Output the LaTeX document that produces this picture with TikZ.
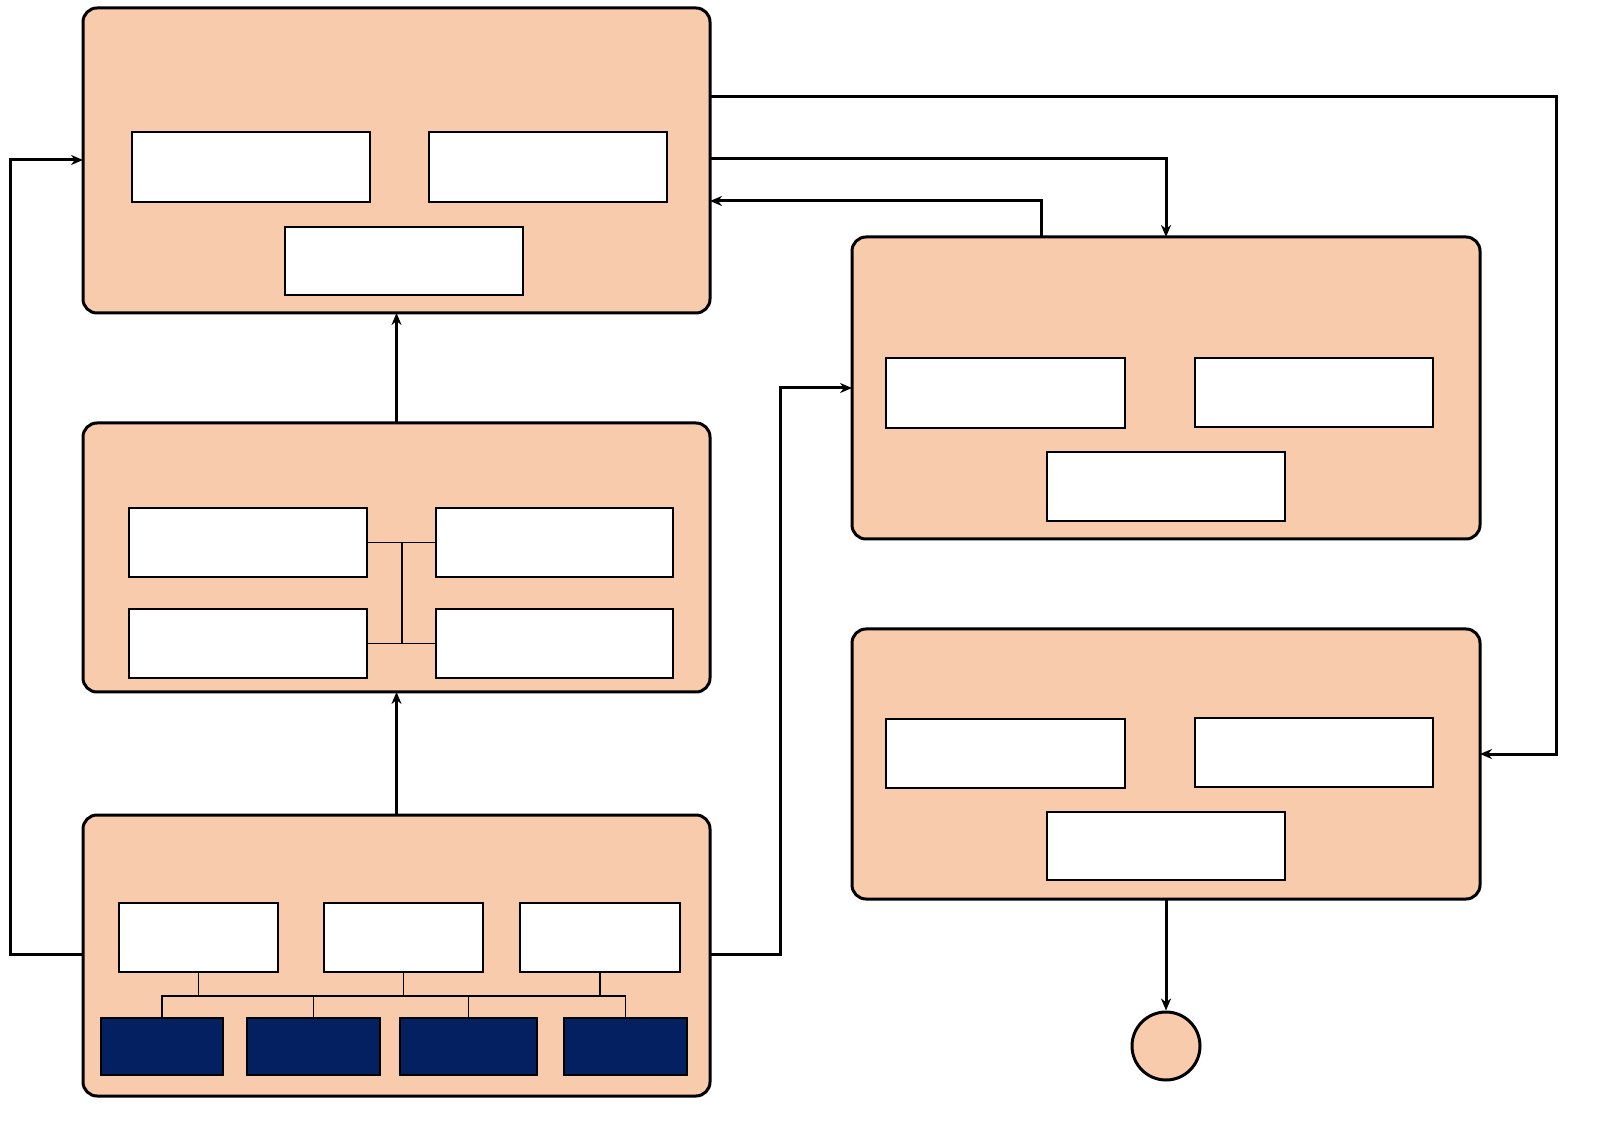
\documentclass[tikz,border=0pt]{standalone}
\usetikzlibrary{arrows.meta}
\definecolor{peach}{HTML}{F7CBAC}
\definecolor{navy}{HTML}{042060}
\begin{document}
\begin{tikzpicture}[x=0.5pt,y=-0.5pt,
  box/.style 2 args={anchor=north west,inner sep=0,outer sep=0,minimum width=#1*0.5pt,minimum height=#2*0.5pt},
  panel/.style={draw,line width=1.5pt,fill=peach,rounded corners=7pt},
  wbox/.style={draw,line width=0.8pt,fill=white},
  nbox/.style={draw,line width=0.8pt,fill=navy},
  arr/.style={line width=1.5pt,-{Stealth[length=6pt,width=5pt]}},
  thin/.style={line width=0.8pt}]
\useasboundingbox[fill=white] (0,0) rectangle (1600,1127);
% panels
\node[panel,box={627}{305}] (A) at (83,8) {};
\node[panel,box={627}{269}] (B) at (83,423) {};
\node[panel,box={627}{281}] (C) at (83,815) {};
\node[panel,box={628}{302}] (D) at (852,237) {};
\node[panel,box={628}{270}] (E) at (852,629) {};
\node[draw,line width=1.5pt,fill=peach,circle,minimum size=34pt,inner sep=0] (O) at (1166,1046) {};
% A
\node[wbox,box={238}{70}] (a1) at (132,132) {};
\node[wbox,box={238}{70}] (a2) at (429,132) {};
\node[wbox,box={238}{68}] (a3) at (285,227) {};
% B
\node[wbox,box={238}{69}] (b1) at (129,508) {};
\node[wbox,box={237}{69}] (b2) at (436,508) {};
\node[wbox,box={238}{69}] (b3) at (129,609) {};
\node[wbox,box={237}{69}] (b4) at (436,609) {};
\coordinate (bt) at (402,543);
\coordinate (bb) at (402,644);
\draw[thin] (b1.east) -- (b2.west);
\draw[thin] (b3.east) -- (b4.west);
\draw[thin] (bt) -- (bb);
% C
\node[wbox,box={159}{69}] (c1) at (119,903) {};
\node[wbox,box={159}{69}] (c2) at (324,903) {};
\node[wbox,box={160}{69}] (c3) at (520,903) {};
\node[nbox,box={122}{57}] (n1) at (101,1018) {};
\node[nbox,box={133}{57}] (n2) at (247,1018) {};
\node[nbox,box={137}{57}] (n3) at (400,1018) {};
\node[nbox,box={123}{57}] (n4) at (564,1018) {};
\draw[thin] (c1.south) -- ++(0,24);
\draw[thin] (c2.south) -- ++(0,24);
\draw[thin] (c3.south) -- ++(0,24);
\draw[thin] (n1.north) |- (n4.north |- 0,996) -- (n4.north);
\draw[thin] (n2.north) -- (n2.north |- 0,996);
\draw[thin] (n3.north) -- (n3.north |- 0,996);
% D
\node[wbox,box={239}{70}] (d1) at (886,358) {};
\node[wbox,box={238}{69}] (d2) at (1195,358) {};
\node[wbox,box={238}{69}] (d3) at (1047,452) {};
% E
\node[wbox,box={239}{69}] (e1) at (886,719) {};
\node[wbox,box={238}{69}] (e2) at (1195,718) {};
\node[wbox,box={238}{68}] (e3) at (1047,812) {};
% arrows
\draw[arr] (C.north) -- (B.south);
\draw[arr] (B.north) -- (A.south);
\draw[arr] (83,954) -- (10,954) -- (10,160) -- (A.west |- 0,160);
\draw[arr] (710,954) -- (780,954) -- (780,388) -- (D.west |- 0,388);
\draw[arr] (710,159) -| (D.north);
\draw[arr] (1041,237) -- (1041,201) -- (A.east |- 0,201);
\draw[arr] (710,97) -- (1556,97) -- (1556,754) -- (E.east |- 0,754);
\draw[arr] (E.south) -- (O.north);
\end{tikzpicture}
\end{document}
